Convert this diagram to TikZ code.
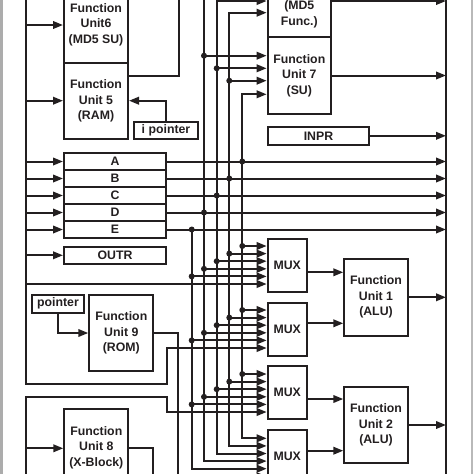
\documentclass[tikz,border=0pt]{standalone}
\usepackage{fontspec}
\setmainfont{Liberation Sans}
\usetikzlibrary{arrows.meta}
\definecolor{ink}{RGB}{35,31,32}
\begin{document}
\begin{tikzpicture}[x=1pt,y=-1pt,
  ln/.style={line width=2pt, draw=ink},
  box/.style={draw=ink, line width=2pt, inner sep=0pt, align=center,
    font=\fontsize{12.3}{15.5}\selectfont\bfseries, text=ink},
  txt/.style={inner sep=0pt, align=center, font=\fontsize{12.3}{15.5}\selectfont\bfseries, text=ink},
  arr/.style={ln, -{Triangle[length=10pt,width=7.5pt]}},
  arrb/.style={ln, {Triangle[length=10pt,width=7.5pt]}-{Triangle[length=10pt,width=7.5pt]}}]
\useasboundingbox (0,0) rectangle (474,474);
% frame edges
\fill[gray!65] (0,-5) rectangle (2.7,480);
\fill[gray!55] (470.8,-5) rectangle (473,480);
% boxes
\node[box, minimum width=64pt, minimum height=77pt] (fu6) at (96,24.5) {Function\\Unit6\\(MD5 SU)};
\node[box, minimum width=64pt, minimum height=76pt] (fu5) at (96,101) {Function\\Unit 5\\(RAM)};
\node[box, minimum width=64pt, minimum height=17pt] (ipt) at (166,130.5) {i pointer};
\node[box, minimum width=63.3pt, minimum height=77pt] (md5) at (299.3,-1.5) {};
\node[txt] (md5t) at (299.3,14.5) {(MD5\\Func.)};
\node[box, minimum width=63.3pt, minimum height=77pt] (fu7) at (299.3,75.5) {Function\\Unit 7\\(SU)};
\node[box, minimum width=101.6pt, minimum height=18.3pt] (inpr) at (318.5,135.8) {INPR};
\foreach \nm/\lb/\yy in {ra/A/161.5, rb/B/178.5, rc/C/195.5, rd/D/212.5, re/E/229.5}
  \node[box, minimum width=102pt, minimum height=17pt] (\nm) at (115,\yy) {\lb};
\node[box, minimum width=102pt, minimum height=17.3pt] (outr) at (115,255.3) {OUTR};
\node[box, minimum width=52.6pt, minimum height=17.7pt] (ptr) at (58,303.8) {pointer};
\node[box, minimum width=64pt, minimum height=76pt] (fu9) at (121.3,333) {Function\\Unit 9\\(ROM)};
\node[box, minimum width=64pt, minimum height=77pt] (fu8) at (96.3,447.7) {Function\\Unit 8\\(X-Block)};
\node[box, minimum width=39pt, minimum height=53pt] (mux1) at (287.2,265.5) {MUX};
\node[box, minimum width=39pt, minimum height=53pt] (mux2) at (287.2,329.2) {MUX};
\node[box, minimum width=39pt, minimum height=53pt] (mux3) at (287.2,392.7) {MUX};
\node[box, minimum width=39pt, minimum height=53pt] (mux4) at (287.2,456.5) {MUX};
\node[box, minimum width=63.4pt, minimum height=76.7pt] (fu1) at (376,297.3) {Function\\Unit 1\\(ALU)};
\node[box, minimum width=63.4pt, minimum height=76.6pt] (fu2) at (376,425) {Function\\Unit 2\\(ALU)};
% bus ends
\coordinate (rbT) at (446,-5);
\coordinate (rbB) at (446,480);
\coordinate (lbT) at (26,-5);
\coordinate (lbB) at (26,480);
% right bus
\draw[ln] (rbT) -- (rbB);
% left upper bus
\draw[arr] (lbT) -- (26,384.3) -- (166.7,384.3) -- (166.7,348) -- (mux2.west |- 0,348);
\foreach \nm/\yy in {fu6/25, fu5/100.7, ra/161.5, rb/178.5, rc/195.5, rd/212.5, re/229.5, outr/255.3}
  \draw[arr] (26,\yy) -- (\nm.west |- 0,\yy);
\draw[arr] (26,284) -- (mux1.west |- 0,284);
% left lower bus
\draw[arr] (lbB) -- (26,397.3) -- (166.7,397.3) -- (166.7,412) -- (mux3.west |- 0,412);
\draw[arr] (26,448.3) -- (fu8.west |- 0,448.3);
% outputs to right bus
\foreach \nm in {ra,rb,rc,rd,re,inpr,fu7,fu1,fu2}
  \draw[arr] (\nm.east) -- (\nm.east -| rbT);
\draw[arr] (md5.east |- 0,1) -- (rbT |- 0,1);
% FU5 output, i pointer
\draw[ln] (fu5.east |- 0,76) -- (179,76) -- (179,-5);
\draw[arr] (ipt.north) -- (ipt.north |- 0,100.7) -- (fu5.east |- 0,100.7);
% pointer -> FU9
\draw[arr] (ptr.south) -- (ptr.south |- 0,333) -- (fu9.west |- 0,333);
% vertical buses
\draw[arrb] (fu7.west |- 0,94.3) -- (242.3,94.3) -- (242.3,438.3) -- (mux4.west |- 0,438.3);
\draw[arrb] (md5.west |- 0,12.7) -- (229.3,12.7) -- (229.3,445.9) -- (mux4.west |- 0,445.9);
\draw[arrb] (md5.west |- 0,1) -- (216.7,1) -- (216.7,453.5) -- (mux4.west |- 0,453.5);
\draw[arr] (204,-5) -- (204,461.1) -- (mux4.west |- 0,461.1);
\draw[arr] (re.east -| 191.7,0) -- (191.7,468.7) -- (mux4.west |- 0,468.7);
\draw[arr] (fu9.east) -- (178,333) -- (178,476.3) -- (mux4.west |- 0,476.3);
\draw[ln] (fu8.east |- 0,448.3) -- (153.3,448.3) -- (153.3,480);
% FU7 inputs
\draw[arr] (204,55.7) -- (fu7.west |- 0,55.7);
\draw[arr] (216.7,68.3) -- (fu7.west |- 0,68.3);
\draw[arr] (229.3,80.7) -- (fu7.west |- 0,80.7);
\fill[ink] (204,55.7) circle[radius=3pt] (216.7,68.3) circle[radius=3pt] (229.3,80.7) circle[radius=3pt];
% register taps
\fill[ink] (242.3,161.5) circle[radius=3pt] (229.3,178.5) circle[radius=3pt]
  (216.7,195.5) circle[radius=3pt] (204,212.5) circle[radius=3pt] (191.7,229.5) circle[radius=3pt];
% MUX inputs
\foreach \m/\ya in {mux1/246, mux2/310, mux3/374}{
  \foreach \bx [count=\i from 0] in {242.3,229.3,216.7,204,191.7}{
    \pgfmathsetmacro\yy{\ya+7.6*\i}
    \draw[arr] (\bx,\yy) -- (\m.west |- 0,\yy);
    \fill[ink] (\bx,\yy) circle[radius=3pt];
  }}
% MUX outputs
\draw[arr] (mux1.east |- 0,272.3) -- (fu1.west |- 0,272.3);
\draw[arr] (mux2.east |- 0,323.3) -- (fu1.west |- 0,323.3);
\draw[arr] (mux3.east |- 0,399) -- (fu2.west |- 0,399);
\draw[arr] (mux4.east |- 0,450.7) -- (fu2.west |- 0,450.7);
\end{tikzpicture}
\end{document}
